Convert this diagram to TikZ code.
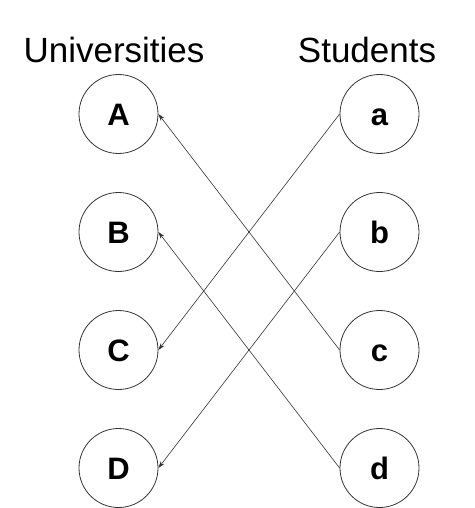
\documentclass[tikz,border=0pt]{standalone}
\usepackage{fontspec}
\setmainfont{Liberation Sans}
\usetikzlibrary{arrows.meta}

\begin{document}
\begin{tikzpicture}[x=1pt,y=-1pt,
	vertex/.style={draw=black!80,circle,line width=0.8pt,minimum size=79pt,inner sep=0pt,text height=22pt,text depth=0pt,font=\fontsize{31}{34}\selectfont\bfseries},
	heading/.style={font=\fontsize{35}{40}\selectfont},
	match/.style={-{Stealth[length=7pt,width=4.5pt]},line width=0.6pt,draw=black!80}]
	\useasboundingbox (0,0) rectangle (474,508);

	\node[heading] (uni) at (114,50) {Universities};
	\node[heading] (stu) at (367,50) {Students};

	% universities
	\node[vertex] (A) at (118.5,114) {A};
	\node[vertex] (B) at (118.5,232) {B};
	\node[vertex] (C) at (118.5,350) {C};
	\node[vertex] (D) at (118.5,468) {D};

	% students
	\node[vertex] (a) at (379.5,114) {a};
	\node[vertex] (b) at (379.5,232) {b};
	\node[vertex] (c) at (379.5,350) {c};
	\node[vertex] (d) at (379.5,468) {d};

	\draw[match] (c.west) -- (A.east);
	\draw[match] (d.west) -- (B.east);
	\draw[match] (a.west) -- (C.east);
	\draw[match] (b.west) -- (D.east);
\end{tikzpicture}
\end{document}
